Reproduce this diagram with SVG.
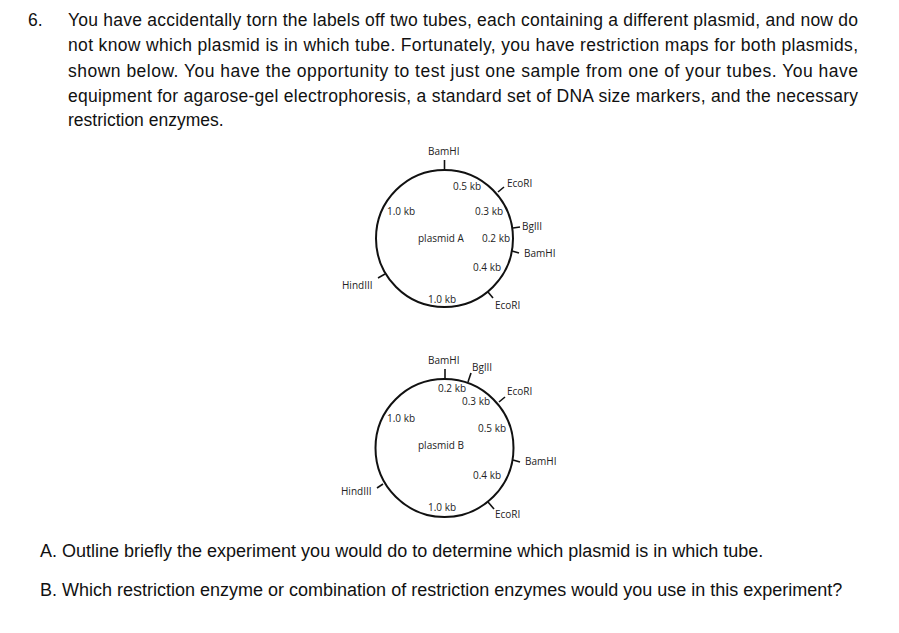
<svg xmlns="http://www.w3.org/2000/svg" width="899" height="633" viewBox="0 0 899 633">
<style>
.q{font-family:"Liberation Sans",Arial,sans-serif;font-size:17.5px;fill:#111}
.r{font-family:"Liberation Sans",Arial,sans-serif;font-size:18px;fill:#111}
.l{font-family:"Open Sans","DejaVu Sans",sans-serif;font-size:10px;fill:#222}
.c{fill:none;stroke:#111;stroke-width:2}
.t{stroke:#111;stroke-width:1.6}
</style>
<rect width="899" height="633" fill="#fff"/>
<g id="question">
<text class="q" x="28" y="26">6.</text>
<text class="q" x="68" y="26" textLength="790" lengthAdjust="spacing">You have accidentally torn the labels off two tubes, each containing a different plasmid, and now do</text>
<text class="q" x="68" y="51" textLength="790" lengthAdjust="spacing">not know which plasmid is in which tube. Fortunately, you have restriction maps for both plasmids,</text>
<text class="q" x="68" y="77" textLength="790" lengthAdjust="spacing">shown below. You have the opportunity to test just one sample from one of your tubes. You have</text>
<text class="q" x="68" y="102" textLength="790" lengthAdjust="spacing">equipment for agarose-gel electrophoresis, a standard set of DNA size markers, and the necessary</text>
<text class="q" x="68" y="126">restriction enzymes.</text>
<text class="r" x="40" y="557">A. Outline briefly the experiment you would do to determine which plasmid is in which tube.</text>
<text class="r" x="40" y="596">B. Which restriction enzyme or combination of restriction enzymes would you use in this experiment?</text>
</g>
<g id="plasmidA">
<circle class="c" cx="444.5" cy="238.5" r="68.5"/>
<line class="t" x1="444.5" y1="160" x2="444.5" y2="170"/>
<line class="t" x1="498" y1="192" x2="504" y2="187"/>
<line class="t" x1="513" y1="228" x2="520" y2="227"/>
<line class="t" x1="512" y1="251" x2="519" y2="253"/>
<line class="t" x1="488" y1="292" x2="493" y2="298"/>
<line class="t" x1="385" y1="274" x2="378" y2="278"/>
<text class="l" x="428" y="155">BamHI</text>
<text class="l" x="453" y="190">0.5 kb</text>
<text class="l" x="507" y="187">EcoRI</text>
<text class="l" x="387" y="215">1.0 kb</text>
<text class="l" x="475" y="215">0.3 kb</text>
<text class="l" x="522" y="230">BglII</text>
<text class="l" x="418" y="242">plasmid A</text>
<text class="l" x="482" y="242">0.2 kb</text>
<text class="l" x="524" y="257">BamHI</text>
<text class="l" x="473" y="271">0.4 kb</text>
<text class="l" x="342" y="289">HindIII</text>
<text class="l" x="428" y="303">1.0 kb</text>
<text class="l" x="495" y="309">EcoRI</text>
</g>
<g id="plasmidB">
<circle class="c" cx="444.5" cy="448" r="69"/>
<line class="t" x1="445" y1="369" x2="445" y2="379"/>
<line class="t" x1="471" y1="373" x2="468" y2="382"/>
<line class="t" x1="505" y1="397" x2="499" y2="402"/>
<line class="t" x1="513" y1="460" x2="520" y2="462"/>
<line class="t" x1="488" y1="502" x2="494" y2="509"/>
<line class="t" x1="383" y1="484" x2="377" y2="488"/>
<text class="l" x="428" y="364">BamHI</text>
<text class="l" x="472" y="371">BglII</text>
<text class="l" x="438" y="392">0.2 kb</text>
<text class="l" x="507" y="395">EcoRI</text>
<text class="l" x="462" y="405">0.3 kb</text>
<text class="l" x="387" y="422">1.0 kb</text>
<text class="l" x="478" y="432">0.5 kb</text>
<text class="l" x="418" y="449">plasmid B</text>
<text class="l" x="525" y="465">BamHI</text>
<text class="l" x="473" y="479">0.4 kb</text>
<text class="l" x="341" y="495">HindIII</text>
<text class="l" x="428" y="511">1.0 kb</text>
<text class="l" x="495" y="518">EcoRI</text>
</g>
</svg>
